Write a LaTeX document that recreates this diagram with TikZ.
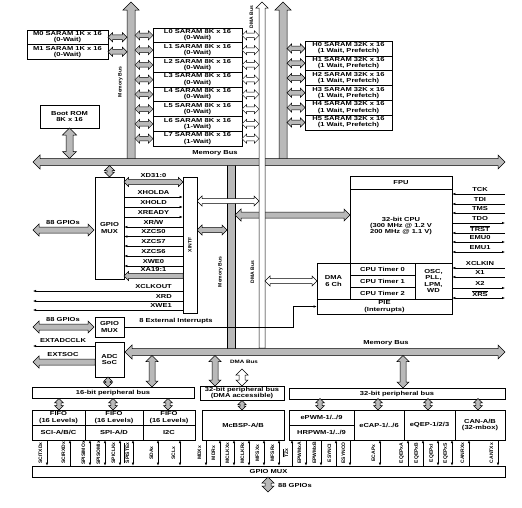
\documentclass[tikz,border=0pt]{standalone}
\usepackage{fontspec}
\setmainfont{Liberation Sans}
\newfontfamily\dfont[FakeStretch=1.3]{Liberation Sans}
\newfontfamily\pfont{Liberation Sans}
\usetikzlibrary{arrows.meta}
\newcommand{\boxfont}{\dfont\bfseries\fontsize{5.8}{6.2}\selectfont}
\newcommand{\midfont}{\dfont\bfseries\fontsize{4.8}{5.2}\selectfont}
\newcommand{\pinfont}{\pfont\bfseries\fontsize{5}{5.4}\selectfont}
\newcommand{\ovl}[1]{$\overline{\mbox{#1}}$}
% bloque rectangular dado por sus esquinas
\newcommand{\blk}[6]{\node[box,minimum width={#4-#2},minimum height={#5-#3}] (#1) at ({(#2+#4)/2},{(#3+#5)/2}) {#6};}
% buses anchos: horizontal con dos puntas, horizontal punta izquierda
\newcommand{\busLR}[5]{\draw[#1] (#2,#4) -- ++(2*#5,2*#5) -- ++(0,-#5) -- ({#3-2*#5},{#4+#5}) -- ++(0,#5) -- (#3,#4) -- ++(-2*#5,-2*#5) -- ++(0,#5) -- ({#2+2*#5},{#4-#5}) -- ++(0,-#5) -- cycle;}
\newcommand{\busL}[5]{\draw[#1] (#2,#4) -- ++(2*#5,2*#5) -- ++(0,-#5) -- (#3,{#4+#5}) -- (#3,{#4-#5}) -- ({#2+2*#5},{#4-#5}) -- ++(0,-#5) -- cycle;}
% buses anchos verticales: dos puntas, punta arriba
\newcommand{\busUD}[5]{\draw[#1] (#2,#3) -- ++(2*#5,2*#5) -- ++(-#5,0) -- ({#2+#5},{#4-2*#5}) -- ++(#5,0) -- (#2,#4) -- ++(-2*#5,-2*#5) -- ++(#5,0) -- ({#2-#5},{#3+2*#5}) -- ++(-#5,0) -- cycle;}
\newcommand{\busU}[5]{\draw[#1] (#2,#3) -- ++(2*#5,2*#5) -- ++(-#5,0) -- ({#2+#5},#4) -- ({#2-#5},#4) -- ({#2-#5},{#3+2*#5}) -- ++(-#5,0) -- cycle;}
\begin{document}
\begin{tikzpicture}[x=1pt,y=-1pt,>={Latex[length=3pt,width=2.4pt]},
  box/.style={draw,fill=white,line width=0.6pt,inner sep=0.3pt,align=center,font=\boxfont},
  bus/.style={draw,fill=gray!55,line width=0.5pt},
  hollow/.style={draw,fill=white,line width=0.5pt},
  lbl/.style={font=\boxfont,inner sep=0pt},
  vlbl/.style={font=\pinfont,inner sep=0pt,rotate=90},
  sig/.style={line width=0.5pt}]
  \fill[white] (0,0) rectangle (522,507);
  \useasboundingbox (0,0) rectangle (522,507);
  % buses de memoria y bus DMA
  \busU{bus}{131}{2}{162}{4}
  \busU{bus}{283}{2}{162}{4}
  \draw[bus] (227,162) rectangle (235,352);
  \busLR{bus}{33}{505}{162}{3.5}
  \busLR{bus}{125}{505}{352}{3.5}
  \busLR{bus}{235}{350}{215}{3}
  \busU{hollow}{262}{2}{348}{3}
  \busLR{hollow}{197}{259}{201}{2.5}
  \busLR{bus}{197}{227}{230}{2.5}
  \busLR{hollow}{265}{317}{281}{2.5}
  \node[vlbl] (mbA) at (120.5,82) {Memory Bus};
  \node[vlbl] (dbA) at (251.5,17) {DMA Bus};
  \node[vlbl] (mbC) at (220.5,272) {Memory Bus};
  \node[vlbl] (dbC) at (252.5,272) {DMA Bus};
  \node[lbl] (mbH) at (215,153.5) {Memory Bus};
  \node[lbl] (mbL) at (386,343) {Memory Bus};
  % memorias M0, M1, L0-L7, H0-H5
  \blk{m0}{27}{30}{108}{44.5}{M0 SARAM 1K x 16\\(0-Wait)}
  \blk{m1}{27}{44.5}{108}{59}{M1 SARAM 1K x 16\\(0-Wait)}
  \busLR{bus}{108}{127}{37.25}{2.3}
  \busLR{bus}{108}{127}{51.75}{2.3}
  \foreach \i/\w in {0/0,1/0,2/0,3/0,4/0,5/0,6/1,7/1}{
    \pgfmathsetmacro\yt{28+14.75*\i}
    \blk{l\i}{153}{\yt}{242}{\yt+14.75}{L\i\ SARAM 8K x 16\\(\w-Wait)}
    \busLR{bus}{135}{153}{\yt+7.375}{2.3}
    \busLR{hollow}{242}{259}{\yt+7.375}{2.3}
  }
  \foreach \i in {0,...,5}{
    \pgfmathsetmacro\yt{41+14.8*\i}
    \blk{h\i}{305}{\yt}{392}{\yt+14.8}{H\i\ SARAM 32K x 16\\(1 Wait, Prefetch)}
    \busLR{bus}{287}{305}{\yt+7.4}{2.3}
  }
  \blk{bootrom}{40}{105}{99}{128}{Boot ROM\\8K x 16}
  \busUD{bus}{69.5}{128}{158.5}{3.5}
  % interfaz externa XINTF
  \blk{gpiomux}{95}{177}{124}{279}{GPIO\\MUX}
  \blk{xintf}{183}{177}{197}{313}{}
  \node[vlbl] (xintfl) at (xintf) {XINTF};
  \busUD{bus}{109.5}{165.5}{177}{2.5}
  \busLR{bus}{33}{94}{230}{3}
  \node[lbl] (gpioA) at (63,222.5) {88 GPIOs};
  \busLR{bus}{124}{183}{182}{2.3}
  \node[lbl] (xd) at (153.5,175.5) {XD31:0};
  \foreach \y/\t in {197/XHOLDA,207/XHOLD,217/XREADY}{
    \draw[sig,->] (gpiomux.east |- 0,\y) -- (xintf.west |- 0,\y);
    \node[lbl] (s\y) at (153.5,\y-5) {\t};
  }
  \foreach \y/\t in {227/{XR/W},236.5/XZCS0,246/XZCS7,256/XZCS6,266/XWE0}{
    \draw[sig,<-] (gpiomux.east |- 0,\y) -- (xintf.west |- 0,\y);
    \node[lbl] (s\y) at (153.5,\y-5) {\t};
  }
  \busL{bus}{124}{183}{276}{2.3}
  \node[lbl] (xa) at (153.5,269.5) {XA19:1};
  \foreach \y/\t in {291/XCLKOUT,301/XRD,310/XWE1}{
    \draw[sig,->] (xintf.west |- 0,\y) -- (33,\y);
    \node[lbl,anchor=east] (s\y) at (172,\y-5) {\t};
  }
  % GPIO, ADC
  \blk{gpiomuxb}{95}{317}{124}{337}{GPIO\\MUX}
  \blk{adc}{95}{342}{124}{377}{ADC\\SoC}
  \busLR{bus}{33}{94}{327}{3}
  \node[lbl] (gpioB) at (63,319) {88 GPIOs};
  \draw[sig,->] (adc.west |- 0,346) -- (33,346);
  \node[lbl] (extclk) at (63,340.5) {EXTADCCLK};
  \busL{bus}{33}{95}{362}{3}
  \node[lbl] (extsoc) at (63,354) {EXTSOC};
  % CPU
  \blk{fpu}{350}{176}{452}{189}{FPU}
  \blk{cpu}{350}{189}{452}{263}{32-bit CPU\\(300 MHz @ 1.2 V\\200 MHz @ 1.1 V)}
  \blk{tmr0}{350}{263}{415}{275}{CPU Timer 0}
  \blk{tmr1}{350}{275}{415}{287}{CPU Timer 1}
  \blk{tmr2}{350}{287}{415}{299}{CPU Timer 2}
  \blk{osc}{415}{263}{452}{299}{OSC,\\PLL,\\LPM,\\WD}
  \blk{dma}{317}{263}{350}{299}{DMA\\6 Ch}
  \blk{pie}{317}{299}{452}{314}{PIE\\(Interrupts)}
  \draw[sig,->] (gpiomuxb.east) -- (293,327) |- (pie.west);
  \node[lbl] (extint) at (176,321) {8 External Interrupts};
  \foreach \y in {194,204,213,233}{\draw[sig,<-] (cpu.east |- 0,\y) -- (505,\y);}
  \draw[sig,->] (cpu.east |- 0,223) -- (505,223);
  \foreach \y in {242,252}{\draw[sig,<->] (cpu.east |- 0,\y) -- (505,\y);}
  \foreach \y in {268,277}{\draw[sig,<-] (osc.east |- 0,\y) -- (505,\y);}
  \draw[sig,->] (osc.east |- 0,288) -- (505,288);
  \draw[sig,<->] (osc.east |- 0,298) -- (505,298);
  \foreach \y/\t in {194/TCK,204/TDI,213/TMS,223/TDO,233/{\ovl{TRST}},242/EMU0,252/EMU1,268/XCLKIN,277/X1,288/X2,298/{\ovl{XRS}}}{
    \node[lbl] (r\y) at (480,\y-4.5) {\t};
  }
  % buses de perifericos
  \blk{pbus16}{32}{387}{194}{398}{16-bit peripheral bus}
  \blk{pbusdma}{200}{386}{284}{400.5}{32-bit peripheral bus\\(DMA accessible)}
  \blk{pbus32}{289}{388}{505}{399}{32-bit peripheral bus}
  \busUD{bus}{108}{377}{387}{2.2}
  \busUD{bus}{152}{355.5}{387}{3}
  \busUD{bus}{215}{355.5}{386}{3}
  \busUD{hollow}{242}{369}{386}{3}
  \node[lbl,font=\midfont] (dbL) at (244,361.5) {DMA Bus};
  \busUD{bus}{403}{355.5}{388}{3}
  \foreach \x in {59,113,168,320,378,428,478}{\busUD{bus}{\x}{398.5}{410}{2.2}}
  \busUD{bus}{242}{400.5}{410}{2}
  % perifericos
  \blk{scififo}{32}{410}{85}{425}{FIFO\\(16 Levels)}
  \blk{sci}{32}{425}{85}{440}{SCI-A/B/C}
  \blk{spififo}{85}{410}{143}{425}{FIFO\\(16 Levels)}
  \blk{spi}{85}{425}{143}{440}{SPI-A/D}
  \blk{i2cfifo}{143}{410}{195}{425}{FIFO\\(16 Levels)}
  \blk{i2c}{143}{425}{195}{440}{I2C}
  \blk{mcbsp}{202}{410}{284}{440}{McBSP-A/B}
  \blk{epwm}{289}{410}{354}{425}{ePWM-1/../9}
  \blk{hrpwm}{289}{425}{354}{440}{HRPWM-1/../9}
  \blk{ecap}{354}{410}{404}{440}{eCAP-1/../6}
  \blk{eqep}{404}{410}{455}{440}{eQEP-1/2/3}
  \blk{can}{455}{410}{505}{440}{CAN-A/B\\(32-mbox)}
  \blk{gpiomx}{32}{466}{505}{477}{GPIO MUX}
  % senales hacia el GPIO MUX
  \foreach \x in {47,206,306,321,350,498}{\draw[sig,->] (\x,440) -- (gpiomx.north -| \x,0);}
  \foreach \x in {70,220,292,336,408,423,469}{\draw[sig,<-] (\x,440) -- (gpiomx.north -| \x,0);}
  \foreach \x in {90,105,120,133,158,180,234,249,264,279,380,438,452}{\draw[sig,<->] (\x,440) -- (gpiomx.north -| \x,0);}
  \foreach \x/\t in {47/SCITXDx,70/SCIRXDx,90/SPISIMOx,105/SPISOMIx,120/SPICLKx,133/{\ovl{SPISTEx}},158/SDAx,180/SCLx,206/MDXx,220/MDRx,234/MCLKXx,249/MCLKRx,264/MFSXx,279/MFSRx,292/{\ovl{TZx}},306/EPWMxA,321/EPWMxB,336/ESYNCI,350/ESYNCO,380/ECAPx,408/EQEPxA,423/EQEPxB,438/EQEPxI,452/EQEPxS,469/CANRXx,498/CANTXx}{
    \node[vlbl] (p\x) at (\x-6.5,453) {\t};
  }
  \busUD{bus}{268}{477}{492}{3}
  \node[lbl,anchor=west] (gpioC) at (278,485) {88 GPIOs};
\end{tikzpicture}
\end{document}
